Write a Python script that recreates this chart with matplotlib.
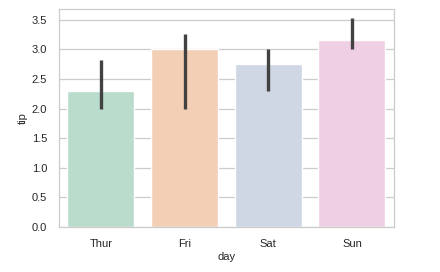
import numpy as np
import seaborn as sns
from matplotlib import pyplot as plt

# median tip by day, with bootstrap CI
days = ["Thur", "Fri", "Sat", "Sun"]
tip_median = [2.3, 3.0, 2.75, 3.15]
ci_low = [2.0, 2.0, 2.3, 3.0]
ci_high = [2.82, 3.26, 3.01, 3.52]

sns.set_theme(style="whitegrid")
plt.rcParams['font.family'] = ['Liberation Sans', 'DejaVu Sans']

fig = plt.figure(figsize=(4.4, 2.72), dpi=100)
ax = fig.add_axes([0.134, 0.165, 0.761, 0.802])

colors = sns.color_palette("Pastel2", 4, desat=0.75)
x = np.arange(len(days))
ax.bar(x, tip_median, width=0.8, color=colors, zorder=2)
ax.vlines(x, ci_low, ci_high, color=".26", linewidth=2.4, zorder=3)

ax.set_xticks(x)
ax.set_xticklabels(days)
ax.set_xlim(-0.5, 3.5)
ax.set_ylim(0, 3.68)
ax.set_yticks(np.arange(0, 3.6, 0.5))
ax.tick_params(labelsize=8, pad=2.5, labelcolor=".15")
ax.set_xlabel("day", fontsize=8, labelpad=2, color=".15")
ax.set_ylabel("tip", fontsize=8, labelpad=3, color=".15")
ax.xaxis.grid(False)
for s in ax.spines.values():
    s.set_color(".8")
    s.set_linewidth(0.9)
ax.yaxis.grid(True, color=".8", linewidth=0.9)
ax.set_axisbelow(True)

fig.savefig("out.png", dpi=100)
